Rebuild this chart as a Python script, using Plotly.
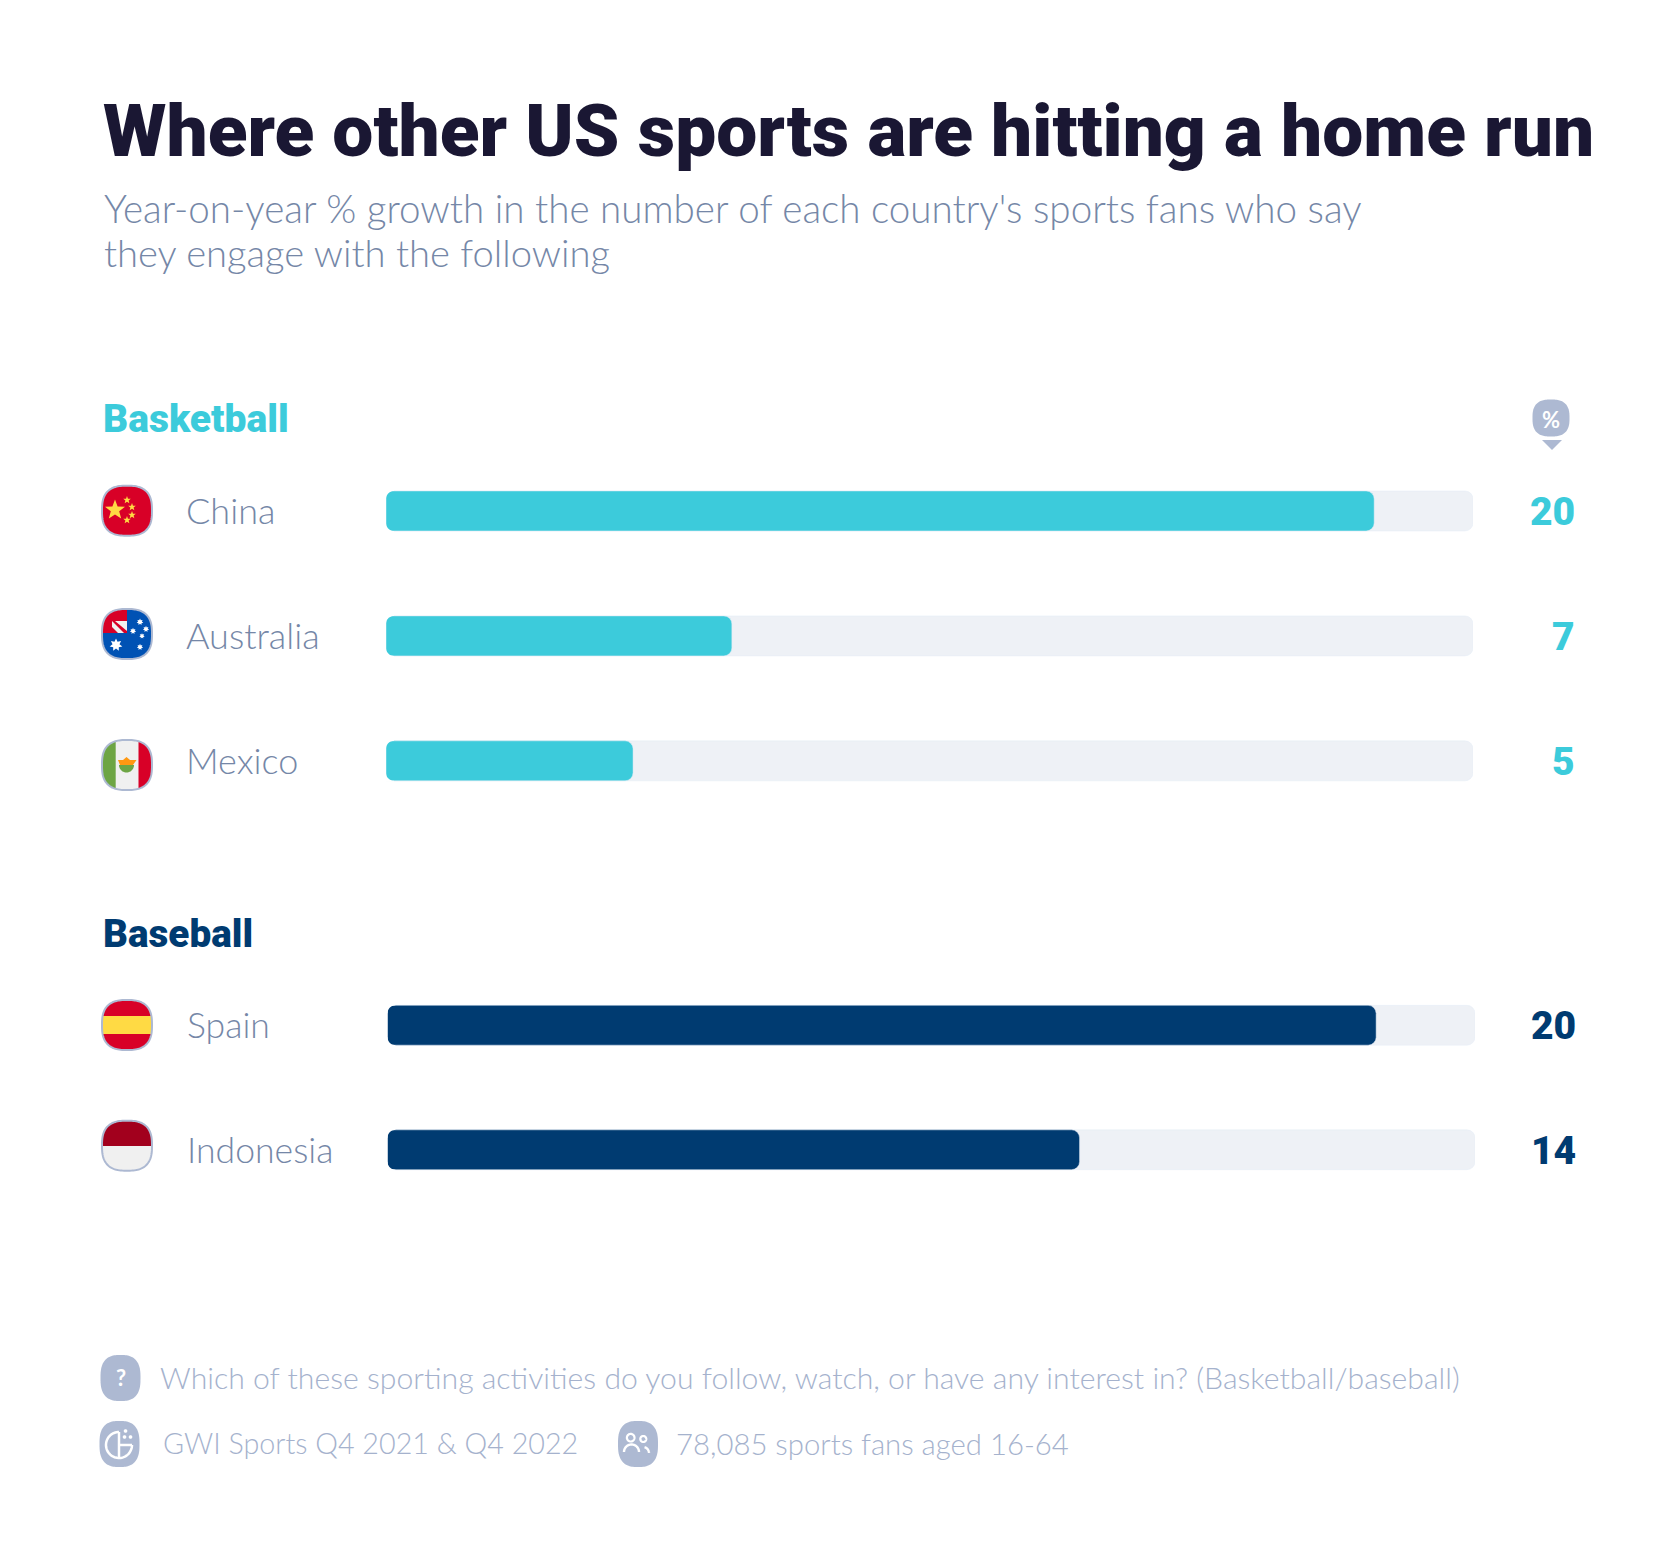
import plotly.graph_objects as go
import numpy as np

W = 1675
H = 1565

basketball_countries = ['China', 'Australia', 'Mexico']
basketball_values = [20, 7, 5]
baseball_countries = ['Spain', 'Indonesia']
baseball_values = [20, 14]
scale_max = 22

TEAL = '#3CCBDB'
NAVY = '#003B71'
TRACK = '#EEF1F6'
GREY = '#7587A7'
PALE = '#ADB9D2'
PALE_TEXT = '#A5B2CD'
DARK = '#1A1733'
RED = '#D80027'
YEL = '#FFDA44'
BLUE = '#0052B4'
OFFW = '#F0F0F0'
FONT = 'Lato'
HEAVY = 'Roboto'
PAGE = 8  # default body margin of the page


def px(x):
    return (x - PAGE) / W


def py(y):
    return 1 - (y - PAGE) / H


def path(pts, closed=True):
    return 'M' + 'L'.join(f'{px(a):.5f},{py(b):.5f}' for a, b in pts) + ('Z' if closed else '')


def squircle(cx, cy, rx, ry, n=2.7):
    t = np.linspace(0, 2 * np.pi, 120, endpoint=False)
    c, s = np.cos(t), np.sin(t)
    return [(cx + rx * np.sign(a) * abs(a) ** (2 / n), cy + ry * np.sign(b) * abs(b) ** (2 / n))
            for a, b in zip(c, s)]


def circle(cx, cy, r, start=0, end=360):
    t = np.radians(np.linspace(start, end, 50))
    return [(cx + r * np.cos(a), cy + r * np.sin(a)) for a in t]


def star(cx, cy, r, points=5, inner=0.42):
    out = []
    for i in range(points * 2):
        a = -np.pi / 2 + i * np.pi / points
        rr = r if i % 2 == 0 else r * inner
        out.append((cx + rr * np.cos(a), cy + rr * np.sin(a)))
    return out


def clip(pts, x0=-1e9, x1=1e9, y0=-1e9, y1=1e9):
    return [(min(max(a, x0), x1), min(max(b, y0), y1)) for a, b in pts]


shapes = []


def fill(pts, color):
    shapes.append(dict(type='path', path=path(pts), xref='paper', yref='paper',
                       fillcolor=color, line=dict(width=0), layer='above'))


def stroke(pts, color, width, closed=True):
    shapes.append(dict(type='path', path=path(pts, closed), xref='paper', yref='paper',
                       fillcolor='rgba(0,0,0,0)', line=dict(width=width, color=color), layer='above'))


def seg(a, b, color, width):
    shapes.append(dict(type='line', x0=px(a[0]), y0=py(a[1]), x1=px(b[0]), y1=py(b[1]),
                       xref='paper', yref='paper', line=dict(width=width, color=color), layer='above'))


# flags
FX = 127
FR = 25


def flag_base(cy, color):
    fill(squircle(FX, cy, FR, FR), color)


def flag_border(cy):
    stroke(squircle(FX, cy, FR, FR), PALE, 2)


cy = 510.7
flag_base(cy, RED)
fill(star(115, 510, 10.5), YEL)
for a, b in [(127, 500), (132, 507), (132, 515), (127, 520)]:
    fill(star(a, b, 4), YEL)
flag_border(cy)

cy = 634
base = squircle(FX, cy, FR, FR)
flag_base(cy, BLUE)
fill(clip(base, x1=127, y1=633), RED)
fill([(112, 621), (127, 621), (127, 633), (112, 633)], OFFW)
fill([(112, 621), (115, 621), (127, 631), (127, 633), (124, 633)], RED)
fill([(112, 627), (118, 633), (112, 633)], RED)
for a, b, r in [(140, 622, 3.4), (146, 629, 3.2), (133, 631, 3.2), (142, 636, 2.8), (140, 647, 3.2)]:
    fill(star(a, b, r, 7, 0.55), 'white')
fill(star(116, 645, 6.5, 7, 0.55), 'white')
flag_border(cy)

cy = 765
base = squircle(FX, cy, FR, FR)
flag_base(cy, OFFW)
fill(clip(base, x1=115.7), '#6DA544')
fill(clip(base, x0=138.5), RED)
fill(circle(126.5, 765, 7.5, 0, 180), '#6DA544')
fill([(118, 760), (123, 760), (126.5, 757), (130, 760), (136.5, 760), (133, 765), (120, 765)], '#FF9811')
flag_border(cy)

cy = 1025
base = squircle(FX, cy, FR, FR)
flag_base(cy, RED)
fill(clip(base, y0=1016, y1=1034), YEL)
flag_border(cy)

cy = 1145.7
base = squircle(FX, cy, FR, FR)
flag_base(cy, OFFW)
fill(clip(base, y1=1146), '#A2001D')
flag_border(cy)

# percent badge
fill(squircle(1551, 418, 18.5, 18.5), PALE)
fill([(1542, 440), (1562, 440), (1552, 450)], PALE)

# footer icons
fill(squircle(120.5, 1378, 20, 23), PALE)
fill(squircle(119.5, 1444, 20, 23), PALE)
fill(squircle(638, 1444, 20, 23), PALE)
stroke(circle(119, 1445, 13, 0, 270), 'white', 2.5, closed=False)
seg((119, 1432), (119, 1458), 'white', 2.5)
seg((119, 1445), (132, 1445), 'white', 2.5)
for a, b in [(125.5, 1431), (124.5, 1437), (130.5, 1437)]:
    fill(circle(a, b, 1.8), 'white')
stroke(circle(630.7, 1437.7, 3.8), 'white', 2.2)
stroke(circle(643.3, 1439, 3), 'white', 2.2)
stroke(circle(631.5, 1452, 7.5, 180, 360), 'white', 2.4, closed=False)
stroke(circle(643, 1453, 6, 285, 360), 'white', 2.4, closed=False)

annotations = []


def label(x, y, text, size, color, weight=400, anchor='left', font=FONT):
    annotations.append(dict(x=px(x), y=py(y), xref='paper', yref='paper', text=text,
                            showarrow=False, xanchor=anchor, yanchor='middle', borderpad=0,
                            font=dict(family=font, size=size, color=color, weight=weight)))


label(102, 131, 'Where other US sports are hitting a home run', 73, DARK, 900, font=HEAVY)
label(103, 208, "Year-on-year % growth in the number of each country's sports fans who say", 38.6, GREY, 300)
label(103, 252, 'they engage with the following', 38.2, GREY, 300)
label(102, 419, 'Basketball', 39, TEAL, 900, font=HEAVY)
label(102, 934, 'Baseball', 38.7, NAVY, 900, font=HEAVY)
label(1551, 419, '%', 22, 'white', 700, 'center')

for name, v, y in zip(basketball_countries, basketball_values, [510, 635, 760]):
    label(185, y, name, 36, GREY, 300)
    label(1576, y + 2, str(v), 39, TEAL, 900, 'right', HEAVY)
for name, v, y in zip(baseball_countries, baseball_values, [1024, 1149]):
    label(186, y, name, 35.6, GREY, 300)
    label(1577, y + 2, str(v), 39, NAVY, 900, 'right', HEAVY)

label(159, 1377, 'Which of these sporting activities do you follow, watch, or have any interest in? (Basketball/baseball)', 30.2, PALE_TEXT, 300)
label(162, 1443, 'GWI Sports Q4 2021 &amp; Q4 2022', 28.7, PALE_TEXT, 300)
label(675, 1443, '78,085 sports fans aged 16-64', 29.3, PALE_TEXT, 300)
label(120.5, 1377, '?', 22, 'white', 700, 'center')

fig = go.Figure()
for countries, values, color, xt, yt, xf, yf in [
    (basketball_countries, basketball_values, TEAL, 'x', 'y', 'x3', 'y3'),
    (baseball_countries, baseball_values, NAVY, 'x2', 'y2', 'x4', 'y4'),
]:
    fig.add_trace(go.Bar(x=[scale_max] * len(values), y=countries, orientation='h', marker_color=TRACK,
                         width=0.32, xaxis=xt, yaxis=yt, hoverinfo='skip', showlegend=False))
    fig.add_trace(go.Bar(x=values, y=countries, orientation='h', marker_color=color,
                         width=0.32, xaxis=xf, yaxis=yf, showlegend=False))

# plotly only rounds the far end of a bar, so the left corners get small white masks
R = 8
for x0, y_top, y_bot, n in [(386, 448.5, 823.3, 3), (387.5, 963, 1212, 2)]:
    step = (y_bot - y_top) / n
    half = step * 0.16
    for i in range(n):
        c = y_top + (i + 0.5) * step
        t = np.radians(np.linspace(270, 180, 12))
        fill([(x0 - 1, c - half - 1), (x0 + R, c - half - 1)]
             + [(x0 + R + R * np.cos(a), c - half + R + R * np.sin(a)) for a in t]
             + [(x0 - 1, c - half + R)], 'white')
        t = np.radians(np.linspace(90, 180, 12))
        fill([(x0 - 1, c + half + 1), (x0 + R, c + half + 1)]
             + [(x0 + R + R * np.cos(a), c + half - R + R * np.sin(a)) for a in t]
             + [(x0 - 1, c + half - R)], 'white')

axis = dict(visible=False, fixedrange=True)
x_dom1 = [px(386), px(1473)]
x_dom2 = [px(387.5), px(1475)]
y_dom1 = [py(823.3), py(448.5)]
y_dom2 = [py(1212), py(963)]
y_cat1 = dict(type='category', categoryorder='array', categoryarray=basketball_countries, range=[2.5, -0.5])
y_cat2 = dict(type='category', categoryorder='array', categoryarray=baseball_countries, range=[1.5, -0.5])
fig.update_layout(
    width=W, height=H, margin=dict(l=0, r=0, t=0, b=0),
    paper_bgcolor='white', plot_bgcolor='white',
    barcornerradius=8,
    xaxis=dict(domain=x_dom1, range=[0, scale_max], anchor='y', **axis),
    yaxis=dict(domain=y_dom1, anchor='x', **y_cat1, **axis),
    xaxis2=dict(domain=x_dom2, range=[0, scale_max], anchor='y2', **axis),
    yaxis2=dict(domain=y_dom2, anchor='x2', **y_cat2, **axis),
    xaxis3=dict(range=[0, scale_max], overlaying='x', anchor='y3', **axis),
    yaxis3=dict(overlaying='y', anchor='x3', **y_cat1, **axis),
    xaxis4=dict(range=[0, scale_max], overlaying='x2', anchor='y4', **axis),
    yaxis4=dict(overlaying='y2', anchor='x4', **y_cat2, **axis),
    shapes=shapes, annotations=annotations,
)

fig.write_html("out.html")
